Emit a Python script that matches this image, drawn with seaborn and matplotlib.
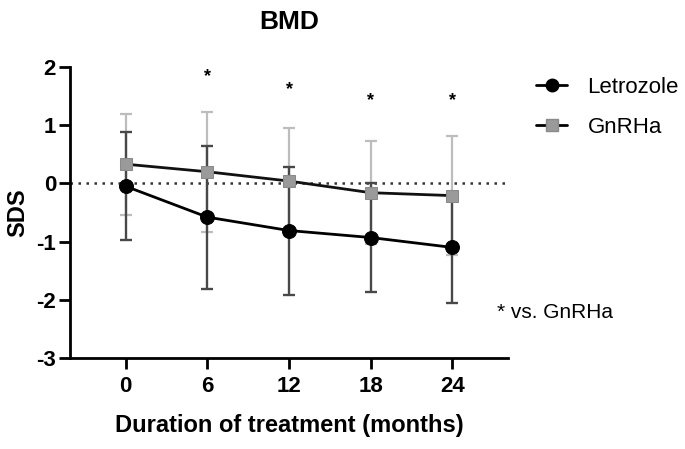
import matplotlib
matplotlib.use("Agg")
import matplotlib.pyplot as plt
import seaborn as sns
import pandas as pd
from matplotlib.lines import Line2D

months = [0, 6, 12, 18, 24]
letrozole_mean = [-0.05, -0.58, -0.81, -0.93, -1.10]
letrozole_sd = [0.93, 1.23, 1.10, 0.93, 0.95]
gnrha_mean = [0.33, 0.20, 0.04, -0.16, -0.21]
gnrha_sd = [0.87, 1.03, 0.92, 0.88, 1.02]
star_months = [6, 12, 18, 24]
star_y = [1.84, 1.62, 1.42, 1.42]
yticks = [-3, -2, -1, 0, 1, 2]

sns.set_theme(style="ticks")
plt.rcParams['font.family'] = ['Liberation Sans', 'DejaVu Sans']
plt.rcParams['text.color'] = 'black'
plt.rcParams['axes.labelcolor'] = 'black'
plt.rcParams['xtick.color'] = 'black'
plt.rcParams['ytick.color'] = 'black'

df = pd.DataFrame({
    "month": months * 2,
    "SDS": letrozole_mean + gnrha_mean,
    "group": ["Letrozole"] * 5 + ["GnRHa"] * 5,
})

fig = plt.figure(figsize=(6.85, 4.49), dpi=100)
ax = fig.add_axes([0.1022, 0.2027, 0.6394, 0.6481])

ax.axhline(0, color="#333333", lw=1.8, ls=(0, (1, 2.2)), zorder=1)

ax.errorbar(months, gnrha_mean, yerr=gnrha_sd, fmt="none", ecolor="#bdbdbd",
            elinewidth=1.6, capsize=4.5, capthick=1.6, zorder=2)
ax.errorbar(months, letrozole_mean, yerr=letrozole_sd, fmt="none", ecolor="#484848",
            elinewidth=1.7, capsize=4.5, capthick=1.7, zorder=3)

sns.lineplot(data=df, x="month", y="SDS", hue="group", style="group",
             markers={"Letrozole": "o", "GnRHa": "s"}, dashes=False,
             palette={"Letrozole": "black", "GnRHa": "#111111"},
             linewidth=2.0, markersize=10, ax=ax, zorder=4, legend=False)
for ln in ax.get_lines():
    if ln.get_marker() == "s":
        ln.set_markerfacecolor("#9a9a9a")
        ln.set_markeredgecolor("#8a8a8a")
        ln.set_markersize(9)
    elif ln.get_marker() == "o":
        ln.set_markerfacecolor("black")
        ln.set_markeredgecolor("black")

for m, y in zip(star_months, star_y):
    ax.text(m, y, "*", ha="center", va="center", fontsize=13, fontweight="bold", color="black")

ax.set_xlim(-4.1, 28.1)
ax.set_ylim(-3, 2)
ax.set_xticks(months)
ax.set_yticks(yticks)
ax.set_xticklabels([str(m) for m in months], fontsize=16, fontweight="bold")
ax.set_yticklabels([str(t) for t in yticks], fontsize=16, fontweight="bold")
ax.tick_params(axis="both", width=2, length=8, color="black")
ax.tick_params(axis="x", pad=5)
ax.tick_params(axis="y", pad=2)
for side in ["top", "right"]:
    ax.spines[side].set_visible(False)
for side in ["left", "bottom"]:
    ax.spines[side].set_linewidth(2)
    ax.spines[side].set_color("black")

ax.set_xlabel("Duration of treatment (months)", fontsize=17, fontweight="bold", labelpad=12)
ax.set_ylabel("SDS", fontsize=17, fontweight="bold", labelpad=5)
ax.set_title("BMD", fontsize=19, fontweight="bold", pad=27)

handles = [
    Line2D([], [], color="black", lw=2, marker="o", markersize=9, markerfacecolor="black"),
    Line2D([], [], color="black", lw=2, marker="s", markersize=8, markerfacecolor="#9a9a9a", markeredgecolor="#8a8a8a"),
]
fig.legend(handles, ["Letrozole", "GnRHa"], loc="upper left", bbox_to_anchor=(0.783, 0.829),
           frameon=False, fontsize=16, handlelength=1.4, labelspacing=0.85, handletextpad=0.9,
           borderaxespad=0, borderpad=0)

fig.text(0.726, 0.303, "* vs. GnRHa", fontsize=15, va="center", ha="left")

fig.savefig("out.png", dpi=100)
